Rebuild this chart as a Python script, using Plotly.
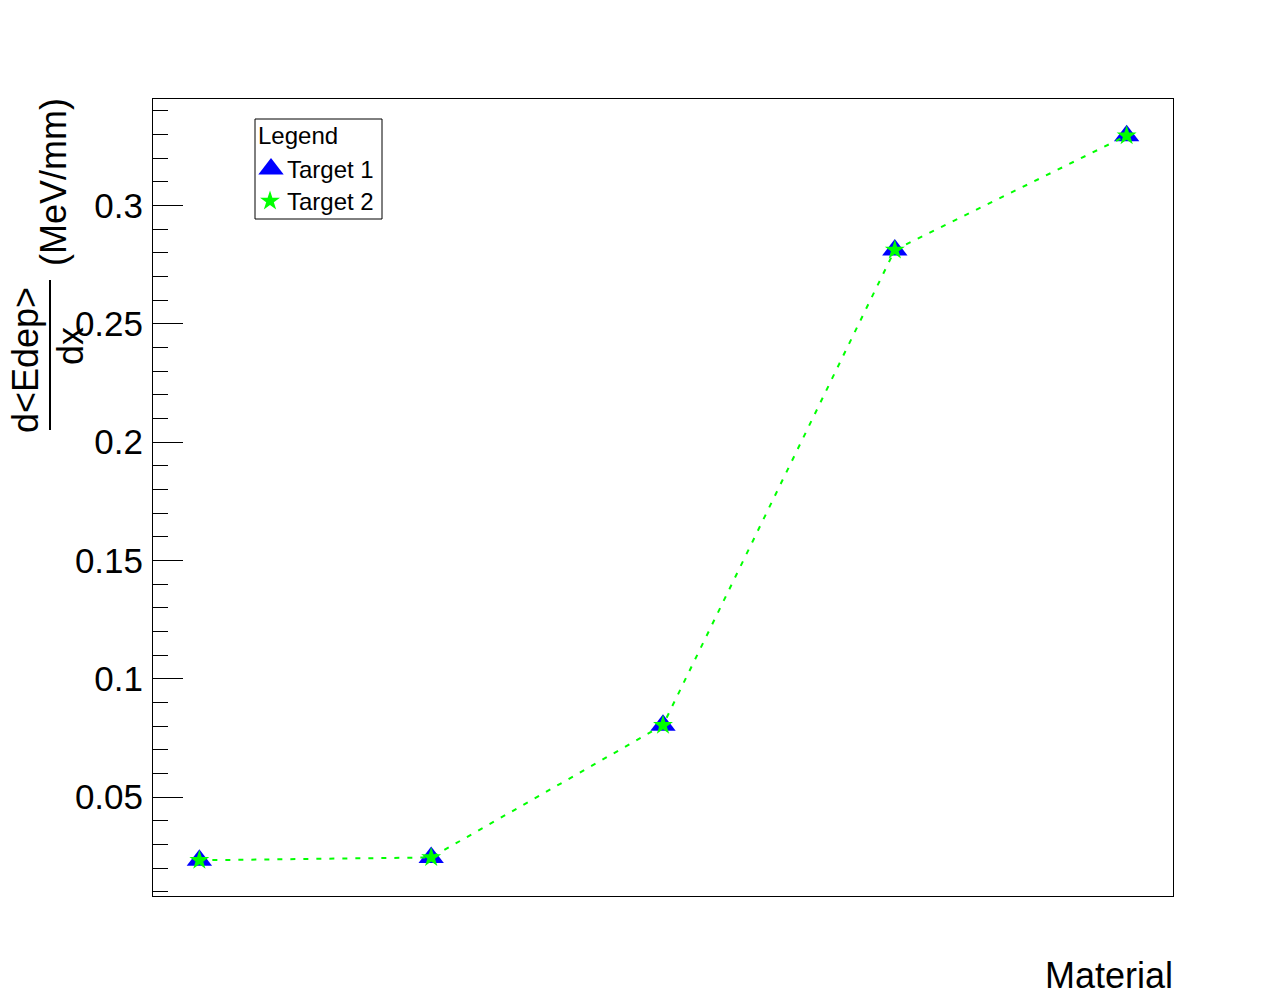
import plotly.graph_objects as go

material_index = [1, 2, 3, 4, 5]
target1 = [0.0233, 0.0245, 0.0804, 0.2812, 0.3295]
target2 = [0.0233, 0.0245, 0.0804, 0.2812, 0.3295]
series_names = ["Target 1", "Target 2"]
legend_title = "Legend"

# page body has an 8px margin; plot area spans screen x 153..1173, y 99..896
OFF = 8
W, H = 1276 - OFF, 996 - OFF
X0, X1, Y0, Y1 = 153, 1173, 99, 896
L, R, T, B = X0 - OFF, 1276 - X1, Y0 - OFF, 996 - Y1
pw, ph = X1 - X0, Y1 - Y0

def px(x):
    return (x - X0) / pw

def py(y):
    return (Y1 - y) / ph

FONT = "Liberation Sans, Arial, Helvetica, sans-serif"
BLUE, GREEN = "#0000ff", "#00ff00"
TRI = dict(symbol="triangle-up", size=22, color=BLUE, line=dict(width=0))
STAR = dict(symbol="star", size=15, color=GREEN, line=dict(width=0))

fig = go.Figure()
fig.add_trace(go.Scatter(x=material_index, y=target1, mode="markers",
                         name=series_names[0], marker=TRI, showlegend=False))
fig.add_trace(go.Scatter(x=material_index, y=target2, mode="lines+markers",
                         name=series_names[1], marker=STAR, showlegend=False,
                         line=dict(color=GREEN, width=2, dash="5px,8px")))

# legend markers on an overlay axis spanning the plot area (0..1)
fig.add_trace(go.Scatter(x=[px(271)], y=[py(169)], mode="markers", marker=TRI,
                         xaxis="x2", yaxis="y2", showlegend=False, hoverinfo="skip"))
fig.add_trace(go.Scatter(x=[px(270)], y=[py(201)], mode="markers", marker=STAR,
                         xaxis="x2", yaxis="y2", showlegend=False, hoverinfo="skip"))

fig.update_layout(
    width=W, height=H,
    margin=dict(l=L, r=R, t=T, b=B, pad=0),
    paper_bgcolor="white", plot_bgcolor="white",
    font=dict(family=FONT, color="black"),
    showlegend=False,
    xaxis=dict(
        range=[0.8, 5.2], showgrid=False, zeroline=False,
        showticklabels=False, ticks="",
        showline=True, linecolor="black", linewidth=1, mirror=True,
    ),
    yaxis=dict(
        range=[0.0082, 0.345], showgrid=False, zeroline=False,
        tickmode="linear", tick0=0, dtick=0.05,
        ticks="inside", ticklen=30, tickwidth=1, tickcolor="black",
        tickfont=dict(size=35, family=FONT), ticklabelstandoff=2,
        minor=dict(ticks="inside", ticklen=15, tickwidth=1, tickcolor="black",
                   dtick=0.01, tick0=0, showgrid=False),
        showline=True, linecolor="black", linewidth=1, mirror=True,
    ),
    xaxis2=dict(overlaying="x", range=[0, 1], visible=False),
    yaxis2=dict(overlaying="y", range=[0, 1], visible=False),
)

# legend box and texts
fig.add_shape(type="rect", xref="paper", yref="paper",
              x0=px(255), x1=px(382), y0=py(219), y1=py(119),
              line=dict(color="black", width=1), fillcolor="white", layer="below")
leg = dict(xref="paper", yref="paper", showarrow=False, xanchor="left",
           yanchor="middle", font=dict(size=24, family=FONT))
fig.add_annotation(text=legend_title, x=px(256), y=py(135), **leg)
fig.add_annotation(text=series_names[0], x=px(285), y=py(169), **leg)
fig.add_annotation(text=series_names[1], x=px(285), y=py(201), **leg)

ann = dict(xref="paper", yref="paper", showarrow=False, font=dict(size=36, family=FONT))
fig.add_annotation(text="d&lt;Edep&gt;", x=px(25), y=py(360), textangle=-90,
                   xanchor="center", yanchor="middle", **ann)
fig.add_annotation(text="dx", x=px(70), y=py(346), textangle=-90,
                   xanchor="center", yanchor="middle", **ann)
fig.add_annotation(text="(MeV/mm)", x=px(53), y=py(182), textangle=-90,
                   xanchor="center", yanchor="middle", **ann)
fig.add_annotation(text="Material", x=px(1175), y=py(976), xanchor="right",
                   yanchor="middle", **ann)
fig.add_shape(type="line", xref="paper", yref="paper",
              x0=px(50), x1=px(50), y0=py(280), y1=py(430),
              line=dict(color="black", width=2))

fig.write_html("out.html")
